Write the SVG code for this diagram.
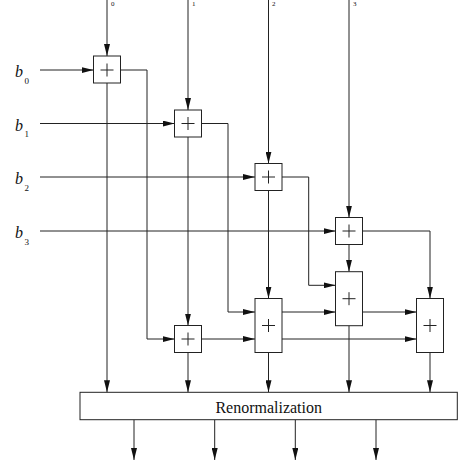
<svg xmlns="http://www.w3.org/2000/svg" width="474" height="474" viewBox="0 0 474 474">
<style>
.box{fill:#fff;stroke:#222;stroke-width:1}
.plus{stroke:#222;stroke-width:1;fill:none}
.c{fill:none;stroke:#222;stroke-width:1}
.a{marker-end:url(#ah)}
.lb{font-family:"Liberation Serif",serif;font-style:italic;font-size:16px;fill:#111}
.sub{font-family:"Liberation Serif",serif;font-size:9px;fill:#111}
.top{font-family:"Liberation Serif",serif;font-size:7px;fill:#111}
.rn{font-family:"Liberation Serif",serif;font-size:16px;fill:#111}
</style>
<defs>
<marker id="ah" markerUnits="userSpaceOnUse" markerWidth="12" markerHeight="6" refX="12" refY="3" orient="auto">
<path d="M0,0 L12,3 L0,6 z" fill="#111"/>
</marker>
</defs>
<rect width="474" height="474" fill="#fff"/>
<g id="labels">
<text class="top" x="111" y="6">0</text>
<text class="top" x="192" y="6">1</text>
<text class="top" x="272" y="6">2</text>
<text class="top" x="353" y="6">3</text>
<text class="lb" x="15" y="76.7">b</text><text class="sub" x="24.5" y="83.5">0</text>
<text class="lb" x="15" y="130.5">b</text><text class="sub" x="24.5" y="137">1</text>
<text class="lb" x="15" y="184">b</text><text class="sub" x="24.5" y="190.5">2</text>
<text class="lb" x="15" y="238">b</text><text class="sub" x="24.5" y="244.5">3</text>
</g>
<g id="connectors">
<path class="c a" d="M107,0 V56"/>
<path class="c a" d="M188,0 V110"/>
<path class="c a" d="M268.5,0 V163.5"/>
<path class="c a" d="M349,0 V217.5"/>
<path class="c a" d="M40,70 H93.5"/>
<path class="c a" d="M40,123.5 H174.5"/>
<path class="c a" d="M40,177 H255"/>
<path class="c a" d="M40,231 H335.5"/>
<path class="c a" d="M107,83 V392.3"/>
<path class="c a" d="M120.5,70 H147 V339 H174.5"/>
<path class="c a" d="M201.5,123.5 H228 V312 H255"/>
<path class="c a" d="M188,137 V325.5"/>
<path class="c a" d="M268.5,190.5 V298.5"/>
<path class="c a" d="M282,177 H308.7 V285.3 H335.5"/>
<path class="c a" d="M349,244.5 V271.7"/>
<path class="c a" d="M362.5,231 H430 V298.5"/>
<path class="c a" d="M201.5,339 H255"/>
<path class="c a" d="M188,352.5 V392.3"/>
<path class="c a" d="M282,312 H335.5"/>
<path class="c a" d="M282,339 H416.5"/>
<path class="c a" d="M268.5,352.5 V392.3"/>
<path class="c a" d="M362.5,312 H416.5"/>
<path class="c a" d="M349,325.7 V392.3"/>
<path class="c a" d="M430,352.5 V392.3"/>
<path class="c a" d="M134,419.7 V460"/>
<path class="c a" d="M214.7,419.7 V460"/>
<path class="c a" d="M295.3,419.7 V460"/>
<path class="c a" d="M376,419.7 V460"/>
</g>
<g id="add00"><rect class="box" x="93.5" y="56" width="27" height="27"/><path class="plus" d="M100.5,70 H113.5 M107,63.5 V76.5"/></g>
<g id="add01"><rect class="box" x="174.5" y="110" width="27" height="27"/><path class="plus" d="M181.5,123.5 H194.5 M188,117 V130"/></g>
<g id="add02"><rect class="box" x="255" y="163.5" width="27" height="27"/><path class="plus" d="M262,177 H275 M268.5,170.5 V183.5"/></g>
<g id="add03"><rect class="box" x="335.5" y="217.5" width="27" height="27"/><path class="plus" d="M342.5,231 H355.5 M349,224.5 V237.5"/></g>
<g id="add11"><rect class="box" x="174.5" y="325.5" width="27" height="27"/><path class="plus" d="M181.5,339 H194.5 M188,332.5 V345.5"/></g>
<g id="add12"><rect class="box" x="255" y="298.5" width="27" height="54"/><path class="plus" d="M262,325.5 H275 M268.5,319 V332"/></g>
<g id="add13"><rect class="box" x="335.5" y="271.7" width="27" height="54"/><path class="plus" d="M342.5,298.7 H355.5 M349,292.2 V305.2"/></g>
<g id="add14"><rect class="box" x="416.5" y="298.5" width="27" height="54"/><path class="plus" d="M423.5,325.5 H436.5 M430,319 V332"/></g>
<g id="renorm"><rect class="box" x="80" y="392.3" width="377.3" height="27.4"/><text class="rn" x="268.7" y="413" text-anchor="middle">Renormalization</text></g>
</svg>
